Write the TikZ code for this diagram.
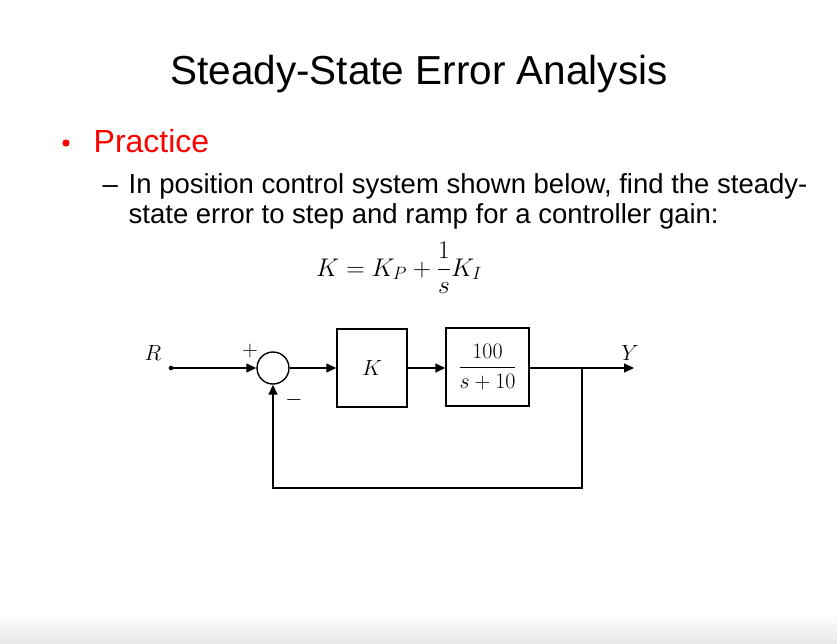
\documentclass[tikz,border=0pt]{standalone}
\usepackage{fix-cm}
\usepackage{amsmath}
\usepackage[no-math]{fontspec}
\setmainfont{Liberation Sans}
\usepackage{xcolor}
\usetikzlibrary{arrows.meta,positioning,calc}
\definecolor{slidered}{RGB}{255,0,0}
\newcommand{\diagfont}{\fontsize{22}{25}\selectfont}

\begin{document}
\begin{tikzpicture}[>={Triangle[length=10pt,width=9pt]},x=1pt,y=-1pt,line width=1.4pt]
  \tikzset{block/.style={rectangle,draw,line width=1.4pt,minimum height=78pt,inner sep=2pt,font=\diagfont},
    sumnode/.style={circle,draw,line width=1.4pt,minimum size=32pt,inner sep=0pt},
    lbl/.style={font=\diagfont,inner sep=0pt}}
  \useasboundingbox (0,0) rectangle (837,643);
  \shade[top color=white,bottom color=black!9,draw=none] (0,612) rectangle (837,643);
  % slide text
  \node[font=\fontsize{40.5}{44}\selectfont,anchor=base] (title) at (419,84) {Steady-State Error Analysis};
  \node[text=slidered,font=\fontsize{32}{36}\selectfont,anchor=base west,inner sep=0pt] (practice) at (93,152) {Practice};
  \fill[slidered] (66,143) circle (3.6pt);
  \node[font=\fontsize{27.5}{30}\selectfont,anchor=base west,inner sep=0pt] (dash) at (102,193) {--};
  \node[font=\fontsize{27.5}{30}\selectfont,anchor=base west,inner sep=0pt] (line1) at (128,193) {In position control system shown below, find the steady-};
  \node[font=\fontsize{27.5}{30}\selectfont,anchor=base west,inner sep=0pt] (line2) at (128,223) {state error to step and ramp for a controller gain:};
  \node[font=\fontsize{25.5}{28}\selectfont] (gain) at (399,268) {$K = K_P + \dfrac{1}{s}K_I$};
  % block diagram
  \coordinate (rin) at (171,368);
  \fill (rin) circle (2.3pt);
  \node[sumnode] (sum) at (273,368) {};
  \node[block,minimum width=70pt] (ctrl) at (372,368) {$K$};
  \node[block,minimum width=83pt] (plant) at (487.5,367) {$\dfrac{100}{s+10}$};
  \coordinate (branch) at (582,368);
  \coordinate (yout) at (634,368);
  \coordinate (fbcorner) at (582,488);
  \draw[->] (rin) -- (sum.west);
  \draw[->] (sum) -- (ctrl);
  \draw[->] (ctrl) -- (plant.west |- ctrl);
  \draw[->] (plant.east |- yout) -- (yout);
  \draw[->] (branch) -- (fbcorner) -| (sum.south);
  \node[lbl] (rlbl) at (153,353) {$R$};
  \node[lbl] (ylbl) at (630,353) {$Y$};
  \node[lbl] (plus) at (250,351) {$+$};
  \node[lbl] (minus) at (294,400) {$-$};
\end{tikzpicture}
\end{document}
